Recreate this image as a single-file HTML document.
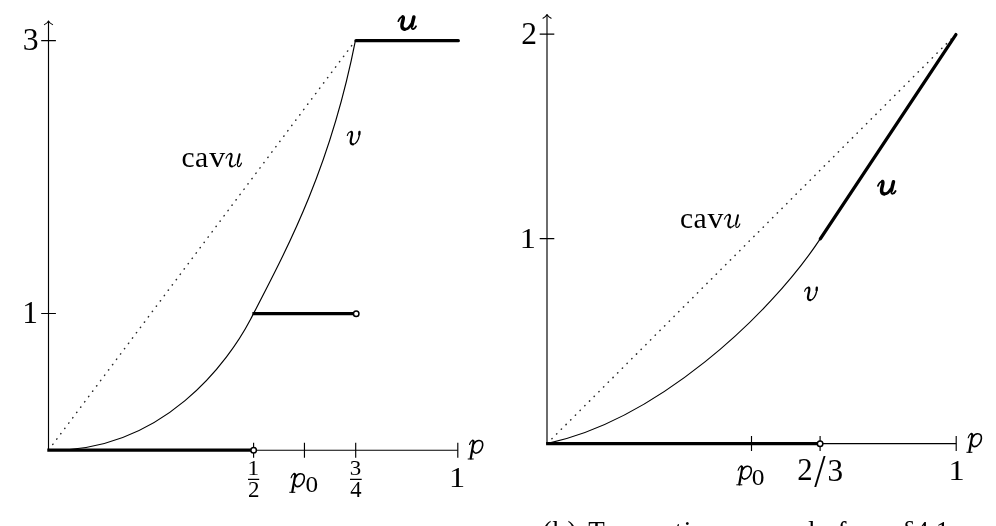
<!DOCTYPE html>
<html>
<head>
<meta charset="utf-8">
<style>
html,body{margin:0;padding:0;background:#fff;width:996px;height:526px;overflow:hidden;}
svg{display:block;filter:grayscale(1);}
text{font-family:"Liberation Serif",serif;fill:#000;}
.it{font-style:italic;}
.bi{font-style:italic;font-weight:bold;}
</style>
</head>
<body>
<svg width="996" height="526" viewBox="0 0 996 526">
<rect x="0" y="0" width="996" height="526" fill="#fff"/>
<g fill="none" stroke="#000" stroke-linecap="butt">
  <!-- ===== LEFT PLOT ===== -->
  <path d="M48.5 450.2 V21.4" stroke-width="1.15"/>
  <path d="M44.4 24.6 Q47.3 23.2 48.5 20.9 Q49.7 23.2 52.6 24.6" stroke-width="1.05" stroke-linecap="round" stroke-linejoin="round"/>
  <path d="M41.2 40.6 H55.9 M41.2 313.45 H55.9" stroke-width="1.15"/>
  <path d="M48.5 450.2 H457.7" stroke-width="1.15"/>
  <path d="M253.6 442.8 V457.7 M304.45 442.8 V457.7 M355.7 442.8 V457.7 M457.8 442.8 V457.7" stroke-width="1.15"/>
  <path d="M48.45 450.2 L355.4 40.6" stroke="#2a2a2a" stroke-width="1.5" stroke-dasharray="0.3 6.341" stroke-dashoffset="-0.58" stroke-linecap="round"/>
  <path d="M48.4,450.2 C 164.4,451.9 229.3,359.9 250.6,319.2 C 288.8,245.8 330.5,166.9 355.4,40.6" stroke-width="1.15"/>
  <path d="M47.3 450.2 H253.6 M252.4 313.7 H356.2" stroke-width="3.3"/>
  <path d="M356.0 40.7 H458.3" stroke-width="3.3" stroke-linecap="round"/>
  <circle cx="253.6" cy="450.2" r="2.75" fill="#fff" stroke-width="1.5"/>
  <circle cx="356.2" cy="313.7" r="2.75" fill="#fff" stroke-width="1.5"/>

  <!-- ===== RIGHT PLOT ===== -->
  <path d="M547.0 443.6 V14.8" stroke-width="1.15"/>
  <path d="M543.0 18.2 Q545.8 16.8 547.0 14.5 Q548.2 16.8 551.1 18.2" stroke-width="1.05" stroke-linecap="round" stroke-linejoin="round"/>
  <path d="M539.7 34.05 H554.3 M539.7 238.6 H554.3" stroke-width="1.15"/>
  <path d="M547.0 443.6 H956.2" stroke-width="1.15"/>
  <path d="M751.5 436.1 V450.9 M820.1 436.1 V450.9 M956.2 436.1 V450.9" stroke-width="1.15"/>
  <path d="M547.0 443.6 L956.0 34.2" stroke="#2a2a2a" stroke-width="1.5" stroke-dasharray="0.3 6.344" stroke-dashoffset="-0.28" stroke-linecap="round"/>
  <path d="M547.0,443.6 C655.9,420.2 768.2,317.4 820.2,238.9" stroke-width="1.15"/>
  <path d="M546.1 443.6 H820.1" stroke-width="3.3"/>
  <path d="M820.3 238.8 L955.9 34.6" stroke-width="3.3" stroke-linecap="round"/>
  <circle cx="820.1" cy="443.7" r="2.75" fill="#fff" stroke-width="1.5"/>
</g>

<text transform="translate(22.71 50.39) scale(1.0110 1)" font-size="31.36">3</text>
<text transform="translate(22.37 323.30) scale(1.0118 1)" font-size="31.06">1</text>
<text transform="translate(181.52 167.11) scale(1.0247 1)" font-size="28.75">c</text>
<text transform="translate(195.01 167.11) scale(1.0346 1)" font-size="28.75">a</text>
<text transform="translate(209.20 167.11) scale(1.0830 1)" font-size="29.36">v</text>
<text transform="translate(247.52 474.80) scale(1.1068 1)" font-size="20.91">1</text>
<text transform="translate(247.88 497.00) scale(1.0240 1)" font-size="22.46">2</text>
<text transform="translate(305.49 492.23) scale(1.0702 1)" font-size="23.58">0</text>
<text transform="translate(349.85 474.59) scale(1.0965 1)" font-size="20.91">3</text>
<text transform="translate(350.35 497.00) scale(0.9797 1)" font-size="23.08">4</text>
<text transform="translate(449.09 487.20) scale(1.0708 1)" font-size="30.15">1</text>
<text transform="translate(521.14 44.00) scale(1.0238 1)" font-size="30.77">2</text>
<text transform="translate(519.69 248.30) scale(1.0601 1)" font-size="30.45">1</text>
<text transform="translate(679.92 228.01) scale(1.0247 1)" font-size="28.75">c</text>
<text transform="translate(693.41 228.01) scale(1.0346 1)" font-size="28.75">a</text>
<text transform="translate(707.60 228.01) scale(1.0830 1)" font-size="29.36">v</text>
<text transform="translate(751.78 484.93) scale(1.0942 1)" font-size="23.28">0</text>
<text transform="translate(797.37 480.00) scale(0.9994 1)" font-size="30.77">2</text>
<text transform="translate(814.20 486.65) scale(0.8957 1)" font-size="45.45">/</text>
<text transform="translate(827.44 480.58) scale(0.9859 1)" font-size="31.67">3</text>
<text transform="translate(948.39 479.90) scale(1.1041 1)" font-size="29.24">1</text>
<g fill="none" stroke="#000" stroke-linecap="round" stroke-linejoin="round">
<g><path d="M398.3,21.2 C399.4,18.5 401.1,16.6 402.9,16.8" stroke-width="1.7"/>
<path d="M402.9,16.8 C404.0,17.2 403.3,19.4 402.6,21.8 C401.7,24.8 401.2,29.0 404.6,29.2" stroke-width="3.5"/>
<path d="M404.6,29.2 C407.3,29.3 409.6,27.2 411.2,24.3" stroke-width="2.6"/>
<path d="M413.9,17.0 L411.8,25.6" stroke-width="3.5"/>
<path d="M411.8,25.6 C411.3,27.9 411.8,29.3 413.2,29.0 C414.3,28.8 415.3,27.7 416.0,26.3" stroke-width="1.8"/></g>
<g transform="translate(479.6 164.7)"><path d="M398.3,21.2 C399.4,18.5 401.1,16.6 402.9,16.8" stroke-width="1.7"/>
<path d="M402.9,16.8 C404.0,17.2 403.3,19.4 402.6,21.8 C401.7,24.8 401.2,29.0 404.6,29.2" stroke-width="3.5"/>
<path d="M404.6,29.2 C407.3,29.3 409.6,27.2 411.2,24.3" stroke-width="2.6"/>
<path d="M413.9,17.0 L411.8,25.6" stroke-width="3.5"/>
<path d="M411.8,25.6 C411.3,27.9 411.8,29.3 413.2,29.0 C414.3,28.8 415.3,27.7 416.0,26.3" stroke-width="1.8"/></g>
<g><path d="M226.0,158.2 C226.9,156.0 228.6,153.9 230.4,153.8" stroke-width="1.1"/>
<path d="M230.4,153.8 C232.4,154.0 231.6,157.0 230.6,160.0 C229.6,163.0 229.2,166.4 232.0,166.5" stroke-width="2.0"/>
<path d="M232.0,166.5 C233.6,166.5 234.8,165.6 235.8,164.3" stroke-width="1.1"/>
<path d="M239.6,154.3 L237.6,163.0" stroke-width="2.0"/>
<path d="M237.6,163.0 C237.2,165.2 237.5,166.6 238.6,166.6 C239.8,166.6 240.9,164.8 241.5,163.0" stroke-width="1.1"/></g>
<g transform="translate(498.4 60.9)"><path d="M226.0,158.2 C226.9,156.0 228.6,153.9 230.4,153.8" stroke-width="1.1"/>
<path d="M230.4,153.8 C232.4,154.0 231.6,157.0 230.6,160.0 C229.6,163.0 229.2,166.4 232.0,166.5" stroke-width="2.0"/>
<path d="M232.0,166.5 C233.6,166.5 234.8,165.6 235.8,164.3" stroke-width="1.1"/>
<path d="M239.6,154.3 L237.6,163.0" stroke-width="2.0"/>
<path d="M237.6,163.0 C237.2,165.2 237.5,166.6 238.6,166.6 C239.8,166.6 240.9,164.8 241.5,163.0" stroke-width="1.1"/></g>
<g><path d="M347.3,135.5 C348.0,133.4 349.6,131.7 351.2,131.8" stroke-width="1.1"/>
<path d="M351.2,131.8 C352.8,132.1 351.8,135.8 351.1,138.6 C350.4,141.4 350.3,144.4 353.0,144.4" stroke-width="2.2"/>
<path d="M353.0,144.4 C355.8,144.4 358.6,139.8 359.3,135.6 C359.5,134.2 359.5,133.0 359.4,132.2" stroke-width="1.3"/>
<path d="M359.5,131.9 L359.3,134.4" stroke-width="2.3"/></g>
<g transform="translate(457.3 155.8)"><path d="M347.3,135.5 C348.0,133.4 349.6,131.7 351.2,131.8" stroke-width="1.1"/>
<path d="M351.2,131.8 C352.8,132.1 351.8,135.8 351.1,138.6 C350.4,141.4 350.3,144.4 353.0,144.4" stroke-width="2.2"/>
<path d="M353.0,144.4 C355.8,144.4 358.6,139.8 359.3,135.6 C359.5,134.2 359.5,133.0 359.4,132.2" stroke-width="1.3"/>
<path d="M359.5,131.9 L359.3,134.4" stroke-width="2.3"/></g>
<g><path d="M968.2,437.8 C968.9,435.6 970.1,433.9 971.5,433.8" stroke-width="1.1"/>
<path d="M971.5,433.8 C972.6,434.0 972.4,435.5 972.0,437.2 L969.4,451.8" stroke-width="2.2"/>
<path d="M966.8,452.3 H972.0" stroke-width="1.0"/>
<path d="M972.8,437.0 C974.0,434.8 976.0,433.7 977.8,433.8 C980.2,434.0 981.6,435.8 981.4,438.6 C981.1,442.0 978.4,446.6 974.6,446.6 C973.2,446.6 972.4,445.6 972.0,444.4" stroke-width="1.6"/></g>
<g transform="translate(-498.7 6.7)"><path d="M968.2,437.8 C968.9,435.6 970.1,433.9 971.5,433.8" stroke-width="1.1"/>
<path d="M971.5,433.8 C972.6,434.0 972.4,435.5 972.0,437.2 L969.4,451.8" stroke-width="2.2"/>
<path d="M966.8,452.3 H972.0" stroke-width="1.0"/>
<path d="M972.8,437.0 C974.0,434.8 976.0,433.7 977.8,433.8 C980.2,434.0 981.6,435.8 981.4,438.6 C981.1,442.0 978.4,446.6 974.6,446.6 C973.2,446.6 972.4,445.6 972.0,444.4" stroke-width="1.6"/></g>
<g transform="translate(-677.1 40.0)"><path d="M968.2,437.8 C968.9,435.6 970.1,433.9 971.5,433.8" stroke-width="1.1"/>
<path d="M971.5,433.8 C972.6,434.0 972.4,435.5 972.0,437.2 L969.4,451.8" stroke-width="2.2"/>
<path d="M966.8,452.3 H972.0" stroke-width="1.0"/>
<path d="M972.8,437.0 C974.0,434.8 976.0,433.7 977.8,433.8 C980.2,434.0 981.6,435.8 981.4,438.6 C981.1,442.0 978.4,446.6 974.6,446.6 C973.2,446.6 972.4,445.6 972.0,444.4" stroke-width="1.6"/></g>
<g transform="translate(-230.1 32.5)"><path d="M968.2,437.8 C968.9,435.6 970.1,433.9 971.5,433.8" stroke-width="1.1"/>
<path d="M971.5,433.8 C972.6,434.0 972.4,435.5 972.0,437.2 L969.4,451.8" stroke-width="2.2"/>
<path d="M966.8,452.3 H972.0" stroke-width="1.0"/>
<path d="M972.8,437.0 C974.0,434.8 976.0,433.7 977.8,433.8 C980.2,434.0 981.6,435.8 981.4,438.6 C981.1,442.0 978.4,446.6 974.6,446.6 C973.2,446.6 972.4,445.6 972.0,444.4" stroke-width="1.6"/></g>
</g>
<path d="M248 479.4 H259.2 M350 479.4 H361.7" stroke="#000" stroke-width="1.2"/>
<!-- caption (cut off) -->
<text y="539.7" font-size="27.0" x="542.52 552.74 567.46">(b)</text>
<text y="539.7" font-size="27.0" x="588.24 605.80 624.93">Two</text>
<text y="539.7" font-size="27.0" x="649.14 661.60 674.84 683.64 690.91 704.84 718.88">actions</text>
<text y="539.7" font-size="27.0" x="732.32 744.40 758.72 771.81 793.90 807.90 815.19">example</text>
<text y="539.7" font-size="27.0" x="837.60 846.80 856.32 870.17">from</text>
<text y="539.7" font-size="27.0" x="902.70 915.17 928.81 935.70">§4.1</text>
</svg>
</body>
</html>
